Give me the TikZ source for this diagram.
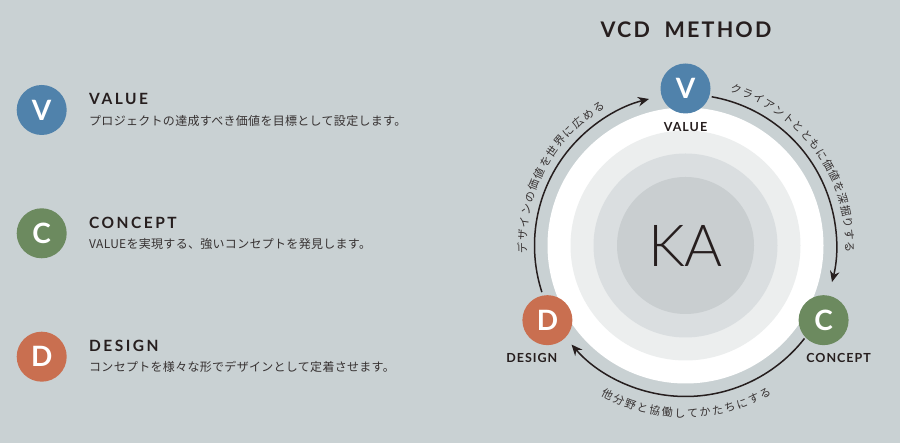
\documentclass[tikz,border=0pt]{standalone}
\usepackage{fontspec}
\setmainfont{Lato}
\newfontfamily\jpfont{Noto Sans CJK JP}
\newfontfamily\kafont{Lato Light}
\usetikzlibrary{arrows.meta,positioning,decorations.text}

\definecolor{bgGray}{RGB}{201,209,211}
\definecolor{valBlue}{RGB}{80,130,171}
\definecolor{conGreen}{RGB}{108,138,95}
\definecolor{desOrange}{RGB}{201,111,80}
\definecolor{ringA}{RGB}{236,238,238}
\definecolor{ringB}{RGB}{218,222,224}
\definecolor{ringC}{RGB}{201,206,208}
\definecolor{inkDark}{RGB}{38,30,30}
\definecolor{inkGray}{RGB}{55,50,50}

\tikzstyle{letter} = [
	circle,
	minimum size=50pt,
	inner sep=0pt,
	text=white,
	font=\bfseries\fontsize{28}{28}\selectfont
]
\tikzstyle{head} = [
	anchor=base west,
	inner sep=0pt,
	text=inkDark,
	font=\bfseries\fontsize{15.5}{15.5}\selectfont\addfontfeatures{LetterSpace=16}
]
\tikzstyle{desc} = [
	anchor=base west,
	inner sep=0pt,
	text=inkGray,
	font=\jpfont\fontsize{12}{12}\selectfont\addfontfeatures{LetterSpace=2.5}
]
\tikzstyle{tag} = [
	anchor=base,
	inner sep=0pt,
	text=inkDark,
	font=\bfseries\fontsize{12.5}{12.5}\selectfont\addfontfeatures{LetterSpace=8}
]
\tikzstyle{loop} = [draw=inkDark, line width=1.5pt, ->]
\tikzstyle{arctext} = [
	decorate,
	decoration={text along path, text align={fit to path}, text color=inkGray}
]

\begin{document}
\begin{tikzpicture}[x=1pt, y=1pt, >={Stealth[length=11pt,width=9.5pt]}]
	\useasboundingbox (0,0) rectangle (900,443);
	\fill[bgGray] (0,0) rectangle (900,443);

	% left column
	\node[letter, fill=valBlue] (legV) at (41.7,333) {V};
	\node[letter, fill=conGreen, below of=legV, node distance=123.3pt] (legC) {C};
	\node[letter, fill=desOrange, below of=legC, node distance=123.4pt] (legD) {D};

	\node[head] (legVt) at ([shift={(47.3,5)}]legV.center) {VALUE};
	\node[head] (legCt) at ([shift={(47.3,5)}]legC.center) {CONCEPT};
	\node[head] (legDt) at ([shift={(47.3,5.5)}]legD.center) {DESIGN};

	\node[desc] (legVd) at ([yshift=-20.5pt]legVt.base west) {プロジェクトの達成すべき価値を目標として設定します。};
	\node[desc] (legCd) at ([yshift=-20.2pt]legCt.base west) {VALUEを実現する、強いコンセプトを発見します。};
	\node[desc] (legDd) at ([yshift=-20.2pt]legDt.base west) {コンセプトを様々な形でデザインとして定着させます。};

	% method circle
	\coordinate (ka) at (685.5,197.5);
	\node[anchor=base, inner sep=0pt, text=inkDark, font=\bfseries\fontsize{21.5}{21.5}\selectfont\addfontfeatures{LetterSpace=10}] (title) at (686,405.7) {VCD\ \ METHOD};

	\fill[white] (ka) circle (138);
	\fill[ringA] (ka) circle (115);
	\fill[ringB] (ka) circle (92);
	\fill[ringC] (ka) circle (68.5);
	\node[inner sep=0pt, text=inkDark, font=\kafont\fontsize{58}{58}\selectfont] (kaT) at (ka) {KA};

	\node[letter, fill=valBlue] (vcdV) at ([shift={(90:157)}]ka) {V};
	\node[letter, fill=conGreen] (vcdC) at ([shift={(-28.4:157)}]ka) {C};
	\node[letter, fill=desOrange] (vcdD) at ([shift={(208.4:157)}]ka) {D};

	\node[tag] (vcdVt) at ([yshift=-42.7pt]vcdV.center) {VALUE};
	\node[tag] (vcdCt) at ([shift={(15,-42.7)}]vcdC.center) {CONCEPT};
	\node[tag] (vcdDt) at ([shift={(-15.6,-42.7)}]vcdD.center) {DESIGN};

	% arrows round the circle
	\draw[loop] ([shift={(80:151)}]ka) arc[start angle=80, end angle=-14, radius=151];
	\draw[loop] ([shift={(-38:151)}]ka) arc[start angle=-38, end angle=-139, radius=151];
	\draw[loop] ([shift={(198:151)}]ka) arc[start angle=198, end angle=104, radius=151];

	\path[arctext, decoration={text={|\jpfont\fontsize{11}{11}\selectfont|クライアントとともに価値を深掘りする}}]
		([shift={(74:160)}]ka) arc[start angle=74, end angle=-2.5, radius=160];
	\path[arctext, decoration={text={|\jpfont\fontsize{11}{11}\selectfont|他分野と協働してかたちにする}}]
		([shift={(240.4:172)}]ka) arc[start angle=240.4, end angle=300.1, radius=172];
	\path[arctext, decoration={text={|\jpfont\fontsize{11}{11}\selectfont|デザインの価値を世界に広める}}]
		([shift={(182.8:159)}]ka) arc[start angle=182.8, end angle=120.2, radius=159];
\end{tikzpicture}
\end{document}
